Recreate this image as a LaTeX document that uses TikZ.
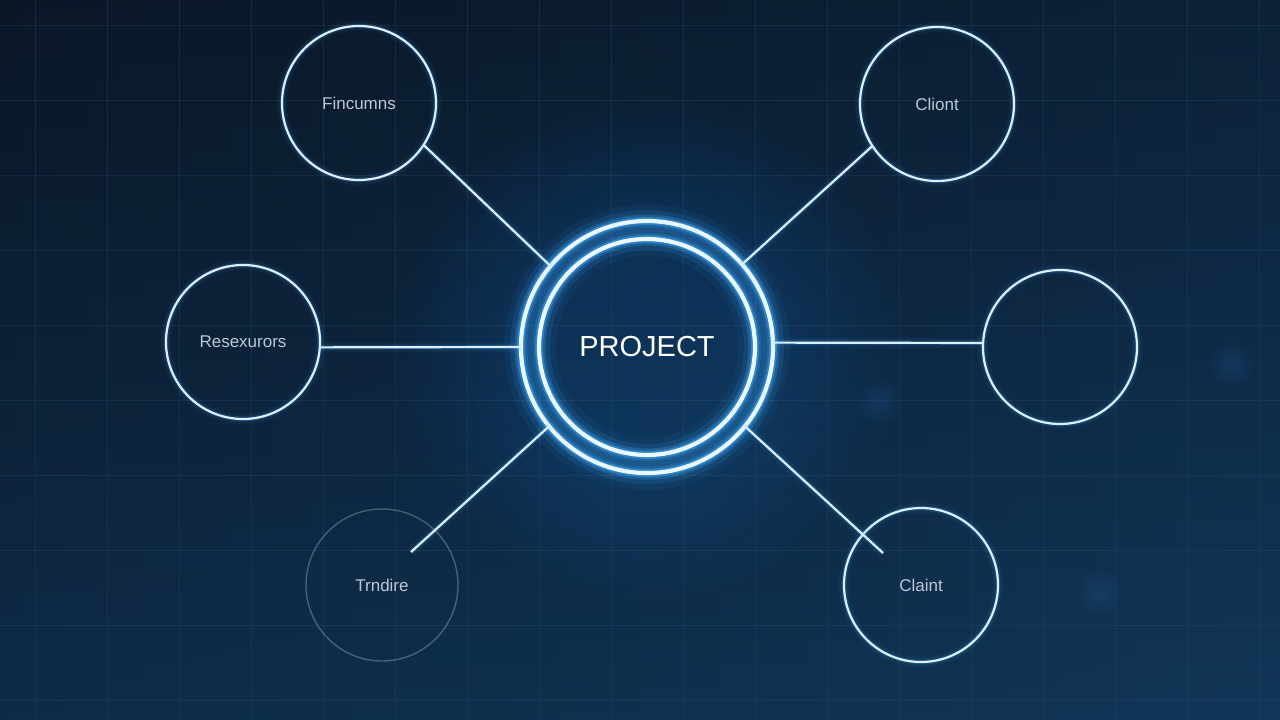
\documentclass[tikz,border=0pt]{standalone}
\usepackage{fontspec}
\setmainfont{Liberation Sans}
\definecolor{bgtop}{HTML}{0A1727}
\definecolor{bgbot}{HTML}{113658}
\definecolor{gridc}{HTML}{3A5F80}
\definecolor{glowc}{HTML}{3FA9FF}
\definecolor{corec}{HTML}{DCEFFF}
\definecolor{ringc}{HTML}{EAF9FF}
\definecolor{labc}{HTML}{BCC8D4}
\begin{document}
\begin{tikzpicture}[x=1pt,y=-1pt,
  gridl/.style={draw=gridc, line width=0.8pt, opacity=0.22},
  glowline/.style={
    preaction={draw=glowc, line width=10pt, opacity=0.06},
    preaction={draw=glowc, line width=5pt, opacity=0.16},
    draw=corec, line width=2.2pt},
  bub/.style={circle, minimum size=154pt, inner sep=0pt, outer sep=0pt,
    glowline, text=labc, font=\fontsize{17}{17}\selectfont},
  dimbub/.style={circle, minimum size=152pt, inner sep=0pt, outer sep=0pt,
    draw=corec, draw opacity=0.28, line width=1.4pt, text=labc,
    font=\fontsize{17}{17}\selectfont},
  ringglow/.style={
    preaction={draw=glowc, line width=34pt, opacity=0.06},
    preaction={draw=glowc, line width=22pt, opacity=0.12},
    preaction={draw=glowc, line width=13pt, opacity=0.25},
    preaction={draw=glowc, line width=8pt, opacity=0.45},
    draw=ringc, line width=4.2pt},
  hub/.style={circle, minimum size=252pt, inner sep=0pt, outer sep=0pt,
    ringglow, text=white, font=\fontsize{29}{29}\selectfont}
]
\useasboundingbox (0,0) rectangle (1280,720);
% background
\shade[top color=bgtop, bottom color=bgbot] (0,0) rectangle (1280,720);
\shade[left color=bgtop, right color=bgbot, opacity=0.35] (0,0) rectangle (1280,720);
\foreach \x in {35,107,...,1280} \draw[gridl] (\x,0) -- (\x,720);
\foreach \y in {25,100,...,720} \draw[gridl] (0,\y) -- (1280,\y);
% soft glows
\foreach \r in {250,240,...,130} \fill[glowc, opacity=0.012] (647,347) circle (\r);
\foreach \p in {(880,402),(1100,592),(1232,365)} {
  \foreach \r in {22,18,...,6} \fill[glowc, opacity=0.025] \p circle (\r);
}
% nodes
\node[hub] (proj) at (647,347) {PROJECT};
\draw[ringglow] (proj.center) circle (108);
\node[bub] (fin) at (359,103) {Fincumns};
\node[bub] (cli) at (937,104) {Cliont};
\node[bub] (res) at (243,342) {Resexurors};
\node[bub] (emp) at (1060,347) {};
\node[dimbub] (trn) at (382,585) {Trndire};
\node[bub] (cla) at (921,585) {Claint};
\coordinate (bl) at (411,552);
\coordinate (br) at (883,553);
% connectors
\draw[glowline] (proj.140) -- (fin.-33);
\draw[glowline] (proj.41) -- (cli.-147);
\draw[glowline] (proj.180) -- (res.-4);
\draw[glowline] (proj.2) -- (emp.177);
\draw[glowline] (proj.-141) -- (bl);
\draw[glowline] (proj.-39) -- (br);
\end{tikzpicture}
\end{document}
